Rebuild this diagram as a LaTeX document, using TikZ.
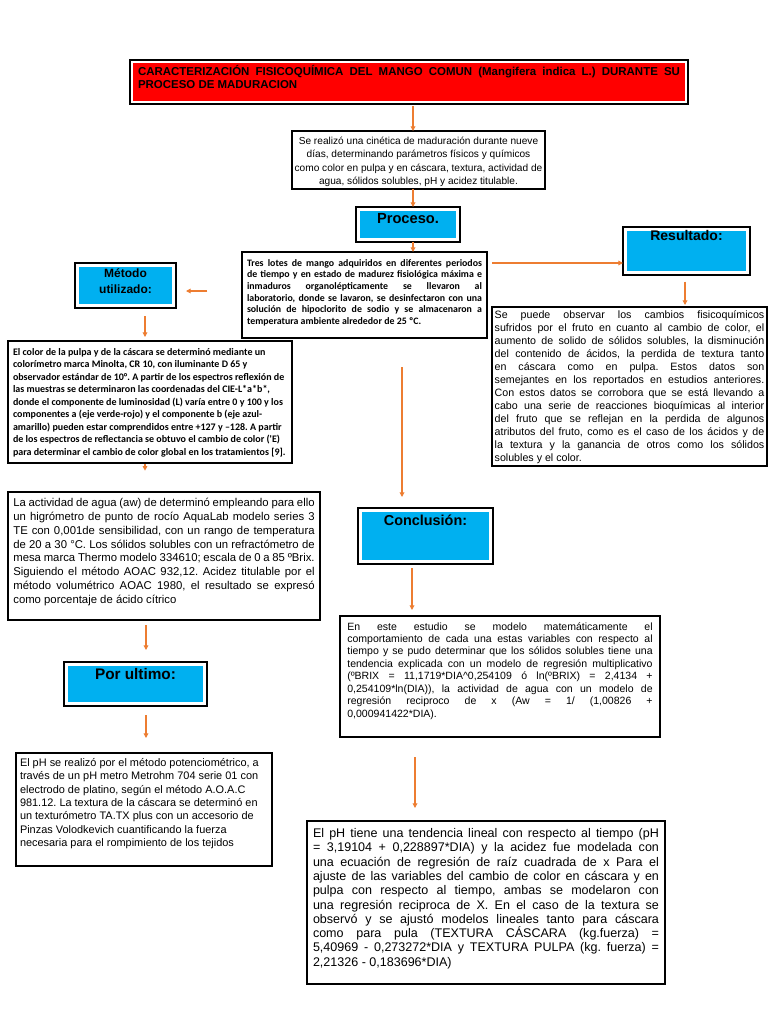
\documentclass[tikz,border=0pt]{standalone}
\usepackage{fontspec}
\setmainfont{Liberation Sans}
\newfontfamily\calib{Carlito}
\usetikzlibrary{arrows.meta}
\definecolor{hdrblue}{HTML}{00B0F0}
\definecolor{ttlred}{HTML}{FF0000}
\definecolor{arrorange}{HTML}{ED7D31}
\newcommand\tb[4]{\parbox[t][#2][t]{#1}{\rule{0pt}{#3}#4}}
\frenchspacing
\begin{document}
\begin{tikzpicture}[x=0.75pt,y=-0.75pt,
  tbox/.style={draw=black, line width=0.8pt, fill=white, inner ysep=0pt, outer sep=0pt, anchor=north west},
  hdr/.style={draw=black, line width=1pt, fill=white, inner sep=0pt, outer sep=0pt, anchor=north west,
    path picture={\fill[hdrblue] ([xshift=3pt,yshift=-3pt]path picture bounding box.north west) rectangle ([xshift=-3pt,yshift=3pt]path picture bounding box.south east);}},
  ttl/.style={draw=black, line width=1pt, fill=white, inner ysep=0pt, outer sep=0pt, anchor=north west,
    path picture={\fill[ttlred] ([xshift=2.5pt,yshift=-2.5pt]path picture bounding box.north west) rectangle ([xshift=-2.5pt,yshift=2.5pt]path picture bounding box.south east);}},
  arr/.style={draw=arrorange, line width=0.8pt, -{Triangle[length=3.5pt,width=3.5pt]}}
]
\fill[white] (0,0) rectangle (768,1024);
\useasboundingbox (0,0) rectangle (768,1024);

% x / y reference coordinates for connectors
\coordinate (X413) at (413,0);
\coordinate (X402) at (402,0);
\coordinate (X412) at (412,0);
\coordinate (X415) at (415,0);
\coordinate (X685) at (685,0);
\coordinate (X145) at (145,0);
\coordinate (X146) at (146,0);
\coordinate (Y263) at (0,263);
\coordinate (Y291) at (0,291);

% title
\node[ttl, inner xsep=6pt, font={\fontsize{8.6}{10}\selectfont\bfseries}] (title) at (130,60)
 {\tb{406.5pt}{33pt}{11.25pt}{CARACTERIZACIÓN FISICOQUÍMICA DEL MANGO COMUN (Mangifera indica L.) DURANTE SU\linebreak PROCESO DE MADURACION}};

% intro
\node[tbox, inner xsep=2pt, font={\fontsize{7.6}{10}\selectfont}] (intro) at (292,131)
 {\tb{185.75pt}{43.5pt}{10pt}{\centering Se realizó una cinética de maduración durante nueve\\
 días, determinando parámetros físicos y químicos\\
 como color en pulpa y en cáscara, textura, actividad de\\
 agua, sólidos solubles, pH y acidez titulable.}};

% Proceso
\node[hdr, font={\fontsize{11}{13}\selectfont\bfseries}] (proceso) at (356,207)
 {\tb{78pt}{26.25pt}{12.2pt}{\centering Proceso.}};

% Tres lotes
\node[tbox, inner xsep=3.75pt, font={\calib\fontsize{7.4}{8.75}\selectfont\bfseries}] (tres) at (242,252)
 {\tb{176.25pt}{64.5pt}{10.5pt}{Tres lotes de mango adquiridos en diferentes periodos\linebreak
 de tiempo y en estado de madurez fisiológica máxima e\linebreak
 inmaduros organolépticamente se llevaron al\linebreak
 laboratorio, donde se lavaron, se desinfectaron con una\linebreak
 solución de hipoclorito de sodio y se almacenaron a\linebreak
 temperatura ambiente alrededor de 25 ºC.}};

% Resultado
\node[hdr, font={\fontsize{10.5}{12.5}\selectfont\bfseries}] (resultado) at (623,227)
 {\tb{95.25pt}{36pt}{9.75pt}{\centering Resultado:}};

\node[tbox, inner xsep=2pt, font={\fontsize{8}{9.8}\selectfont}] (restext) at (492,307)
 {\tb{202.25pt}{119.25pt}{8.25pt}{Se puede observar los cambios fisicoquímicos\linebreak
 sufridos por el fruto en cuanto al cambio de color, el\linebreak
 aumento de solido de sólidos solubles, la disminución\linebreak
 del contenido de ácidos, la perdida de textura tanto\linebreak
 en cáscara como en pulpa. Estos datos son\linebreak
 semejantes en los reportados en estudios anteriores.\linebreak
 Con estos datos se corrobora que se está llevando a\linebreak
 cabo una serie de reacciones bioquímicas al interior\linebreak
 del fruto que se reflejan en la perdida de algunos\linebreak
 atributos del fruto, como es el caso de los ácidos y de\linebreak
 la textura y la ganancia de otros como los sólidos\linebreak
 solubles y el color.}};

% Metodo
\node[hdr, font={\fontsize{9}{11.7}\selectfont\bfseries}] (metodo) at (75,263)
 {\tb{75.75pt}{33.75pt}{11pt}{\centering Método\\ utilizado:}};

% color box
\node[tbox, inner xsep=3.75pt, font={\calib\fontsize{7.5}{9.4}\selectfont\bfseries}] (color) at (8,341)
 {\tb{205.5pt}{91.5pt}{10.5pt}{\raggedright El color de la pulpa y de la cáscara se determinó mediante un\\
 colorímetro marca Minolta, CR 10, con iluminante D 65 y\\
 observador estándar de 10°. A partir de los espectros reflexión de\\
 las muestras se determinaron las coordenadas del CIE-L*a*b*,\\
 donde el componente de luminosidad (L) varía entre 0 y 100 y los\\
 componentes a (eje verde-rojo) y el componente b (eje azul-\\
 amarillo) pueden estar comprendidos entre +127 y –128. A partir\\
 de los espectros de reflectancia se obtuvo el cambio de color ('E)\\
 para determinar el cambio de color global en los tratamientos [9].}};

% agua
\node[tbox, inner xsep=4pt, font={\fontsize{8.5}{10.35}\selectfont}] (agua) at (8,492)
 {\tb{226pt}{96pt}{11pt}{La actividad de agua (aw) de determinó empleando para ello\linebreak
 un higrómetro de punto de rocío AquaLab modelo series 3\linebreak
 TE con 0,001de sensibilidad, con un rango de temperatura\linebreak
 de 20 a 30 °C. Los sólidos solubles con un refractómetro de\linebreak
 mesa marca Thermo modelo 334610; escala de 0 a 85 ºBrix.\linebreak
 Siguiendo el método AOAC 932,12. Acidez titulable por el\linebreak
 método volumétrico AOAC 1980, el resultado se expresó\linebreak
 como porcentaje de ácido cítrico}};

% Por ultimo
\node[hdr, font={\fontsize{11.5}{13.5}\selectfont\bfseries}] (porultimo) at (64,662)
 {\tb{107.25pt}{33pt}{13pt}{\centering Por ultimo:}};

% pH
\node[tbox, inner xsep=3pt, font={\fontsize{8.2}{10}\selectfont}] (ph) at (16,753)
 {\tb{186pt}{84.75pt}{10pt}{\raggedright El pH se realizó por el método potenciométrico, a\\
 través de un pH metro Metrohm 704 serie 01 con\\
 electrodo de platino, según el método A.O.A.C\\
 981.12. La textura de la cáscara se determinó en\\
 un texturómetro TA.TX plus con un accesorio de\\
 Pinzas Volodkevich cuantificando la fuerza\\
 necesaria para el rompimiento de los tejidos}};

% Conclusion
\node[hdr, font={\fontsize{10.8}{13}\selectfont\bfseries}] (conclusion) at (358,508)
 {\tb{101.25pt}{42pt}{12.75pt}{\centering Conclusión:}};

% En este
\node[tbox, inner xsep=5.5pt, font={\fontsize{7.9}{9.35}\selectfont}] (eneste) at (340,616)
 {\tb{229pt}{90.75pt}{10.5pt}{En este estudio se modelo matemáticamente el\linebreak
 comportamiento de cada una estas variables con respecto al\linebreak
 tiempo y se pudo determinar que los sólidos solubles tiene una\linebreak
 tendencia explicada con un modelo de regresión multiplicativo\linebreak
 (ºBRIX = 11,1719*DIA\textasciicircum0,254109 ó ln(ºBRIX) = 2,4134 +\linebreak
 0,254109*ln(DIA)), la actividad de agua con un modelo de\linebreak
 regresión reciproco de x (Aw = 1/ (1,00826 +\linebreak
 0,000941422*DIA).}};

% final
\node[tbox, inner xsep=4.5pt, font={\fontsize{9.4}{10.7}\selectfont}] (final) at (307,821)
 {\tb{259.5pt}{122.25pt}{12.5pt}{El pH tiene una tendencia lineal con respecto al tiempo (pH\linebreak
 = 3,19104 + 0,228897*DIA) y la acidez fue modelada con\linebreak
 una ecuación de regresión de raíz cuadrada de x Para el\linebreak
 ajuste de las variables del cambio de color en cáscara y en\linebreak
 pulpa con respecto al tiempo, ambas se modelaron con\linebreak
 una regresión reciproca de X. En el caso de la textura se\linebreak
 observó y se ajustó modelos lineales tanto para cáscara\linebreak
 como para pula (TEXTURA CÁSCARA (kg.fuerza) =\linebreak
 5,40969 - 0,273272*DIA y TEXTURA PULPA (kg. fuerza) =\linebreak
 2,21326 - 0,183696*DIA)}};

% connectors
\draw[arr, shorten <=1.5pt] (title.south -| X413) -- (intro.north -| X413);
\draw[arr] (intro.south -| X413) -- (proceso.north -| X413);
\draw[arr] (proceso.south -| X413) -- (tres.north -| X413);
\draw[arr, shorten <=3.75pt] (tres.east |- Y263) -- (resultado.west |- Y263);
\draw[arr, shorten <=5pt, shorten >=1.5pt] (resultado.south -| X685) -- (restext.north -| X685);
\draw[arr, shorten <=26pt, shorten >=7.5pt] (tres.west |- Y291) -- (metodo.east |- Y291);
\draw[arr, shorten <=6pt, shorten >=3pt] (metodo.south -| X145) -- (color.north -| X145);
\draw[arr, shorten <=1pt, shorten >=16pt] (color.south -| X145) -- (agua.north -| X145);
\draw[arr, shorten <=3.75pt, shorten >=9pt] (agua.south -| X146) -- (porultimo.north -| X146);
\draw[arr, shorten <=6.75pt, shorten >=11.25pt] (porultimo.south -| X146) -- (ph.north -| X146);
\draw[arr, shorten <=21.75pt, shorten >=8.25pt] (tres.south -| X402) -- (conclusion.north -| X402);
\draw[arr, shorten <=3pt, shorten >=4.5pt] (conclusion.south -| X412) -- (eneste.north -| X412);
\draw[arr, shorten <=15pt, shorten >=9.75pt] (eneste.south -| X415) -- (final.north -| X415);
\end{tikzpicture}
\end{document}
